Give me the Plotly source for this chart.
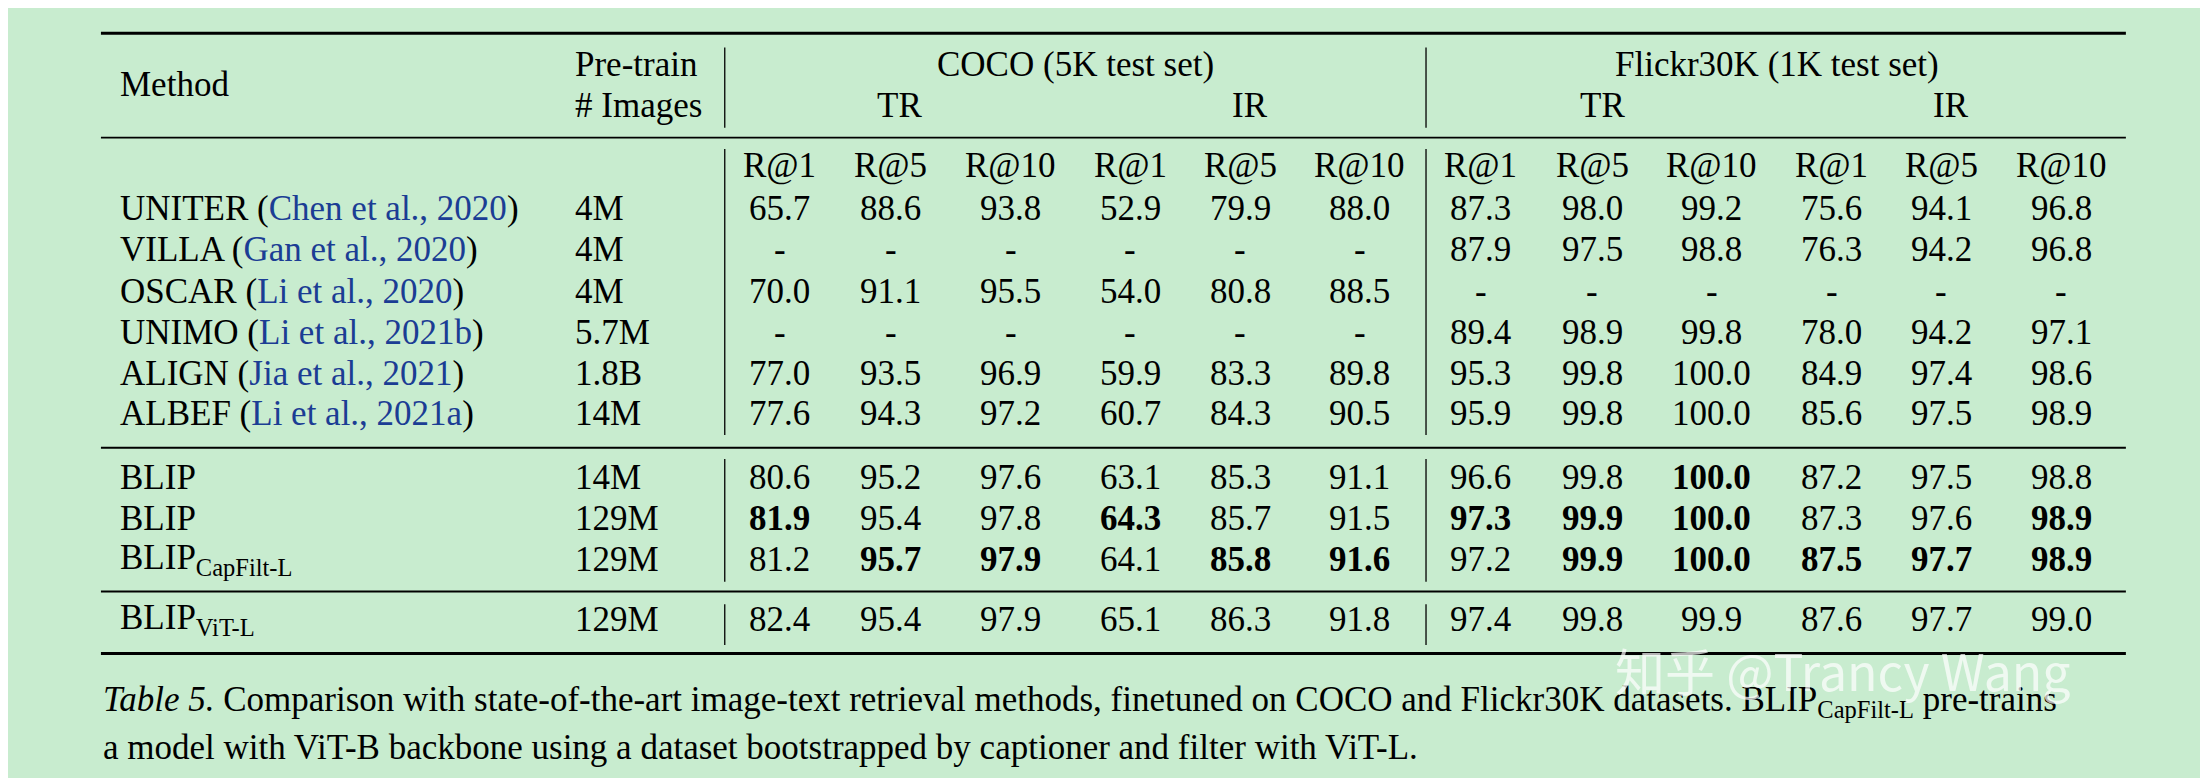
import plotly.graph_objects as go

methods = ["UNITER", "VILLA", "OSCAR", "UNIMO", "ALIGN", "ALBEF", "BLIP", "BLIP", "BLIP<sub>CapFilt-L</sub>", "BLIP<sub>ViT-L</sub>"]
cites = ["Chen et al., 2020", "Gan et al., 2020", "Li et al., 2020", "Li et al., 2021b", "Jia et al., 2021", "Li et al., 2021a", None, None, None, None]
pretrain = ["4M", "4M", "4M", "5.7M", "1.8B", "14M", "14M", "129M", "129M", "129M"]
metrics = ["R@1", "R@5", "R@10"] * 4
values = [
    ["65.7", "88.6", "93.8", "52.9", "79.9", "88.0", "87.3", "98.0", "99.2", "75.6", "94.1", "96.8"],
    ["-", "-", "-", "-", "-", "-", "87.9", "97.5", "98.8", "76.3", "94.2", "96.8"],
    ["70.0", "91.1", "95.5", "54.0", "80.8", "88.5", "-", "-", "-", "-", "-", "-"],
    ["-", "-", "-", "-", "-", "-", "89.4", "98.9", "99.8", "78.0", "94.2", "97.1"],
    ["77.0", "93.5", "96.9", "59.9", "83.3", "89.8", "95.3", "99.8", "100.0", "84.9", "97.4", "98.6"],
    ["77.6", "94.3", "97.2", "60.7", "84.3", "90.5", "95.9", "99.8", "100.0", "85.6", "97.5", "98.9"],
    ["80.6", "95.2", "97.6", "63.1", "85.3", "91.1", "96.6", "99.8", "100.0", "87.2", "97.5", "98.8"],
    ["81.9", "95.4", "97.8", "64.3", "85.7", "91.5", "97.3", "99.9", "100.0", "87.3", "97.6", "98.9"],
    ["81.2", "95.7", "97.9", "64.1", "85.8", "91.6", "97.2", "99.9", "100.0", "87.5", "97.7", "98.9"],
    ["82.4", "95.4", "97.9", "65.1", "86.3", "91.8", "97.4", "99.8", "99.9", "87.6", "97.7", "99.0"],
]
bold = [
    [], [], [], [], [], [],
    [8],
    [0, 3, 6, 7, 8, 11],
    [1, 2, 4, 5, 7, 8, 9, 10, 11],
    [],
]
caption1 = "<i>Table 5.</i> Comparison with state-of-the-art image-text retrieval methods, finetuned on COCO and Flickr30K datasets. BLIP<sub>CapFilt-L</sub> pre-trains"
caption2 = "a model with ViT-B backbone using a dataset bootstrapped by captioner and filter with ViT-L."

W, H = 1568, 552
DX, DY = 7, 5
F = "Liberation Serif"
fs = 35
col_x = [555, 634, 719, 804, 882, 967, 1053, 1132, 1217, 1302, 1380, 1465]
row_y = [147, 176, 206, 235, 264, 293, 338, 367, 396, 439]

ann = []
def t(x, y, s, anchor="center", size=fs, color="black"):
    ann.append(dict(x=x, y=y, text=s, xref="x", yref="y", showarrow=False,
                    xanchor=anchor, yanchor="middle", font=dict(family=F, size=size, color=color)))

t(85, 59, "Method", "left")
t(408, 45, "Pre-train", "left")
t(408, 74, "# Images", "left")
t(765, 45, "COCO (5K test set)")
t(1263, 45, "Flickr30K (1K test set)")
for x, s in [(640, "TR"), (889, "IR"), (1139, "TR"), (1387, "IR")]:
    t(x, 74, s)
for x, s in zip(col_x, metrics):
    t(x, 117, s)
for i, y in enumerate(row_y):
    m = methods[i]
    if cites[i]:
        m = m + ' (<span style="color:#1b3d94">' + cites[i] + '</span>)'
    t(85, y, m, "left")
    t(408, y, pretrain[i], "left")
    for j, x in enumerate(col_x):
        v = values[i][j]
        t(x, y, "<b>%s</b>" % v if j in bold[i] else v)
t(73, 497, caption1, "left", size=35)
t(73, 530, caption2, "left", size=35)
t(1310, 474, "知乎 @Trancy Wang", "center", size=50, color="rgba(255,255,255,0.7)")
ann[-1]["font"]["family"] = "Noto Sans CJK SC"

shapes = []
for y, w in [(23, 3), (97, 1.8), (317, 1.8), (419, 1.8), (463, 3)]:
    shapes.append(dict(type="line", xref="x", yref="y", x0=73, x1=1511, y0=y, y1=y, line=dict(color="black", width=w)))
for x in [516, 1014]:
    for y0, y1 in [(33, 90), (105, 308), (325, 412), (428, 457)]:
        shapes.append(dict(type="line", xref="x", yref="y", x0=x, x1=x, y0=y0, y1=y1, line=dict(color="black", width=1.3)))

fig = go.Figure()
fig.update_layout(width=2208, height=778, margin=dict(l=0, r=0, t=0, b=0),
                  paper_bgcolor="#c8eccf", plot_bgcolor="#c8eccf",
                  xaxis=dict(range=[DX, W + DX], visible=False, fixedrange=True),
                  yaxis=dict(range=[H + DY, DY], visible=False, fixedrange=True),
                  annotations=ann, shapes=shapes, showlegend=False)
fig.write_html("out.html")
